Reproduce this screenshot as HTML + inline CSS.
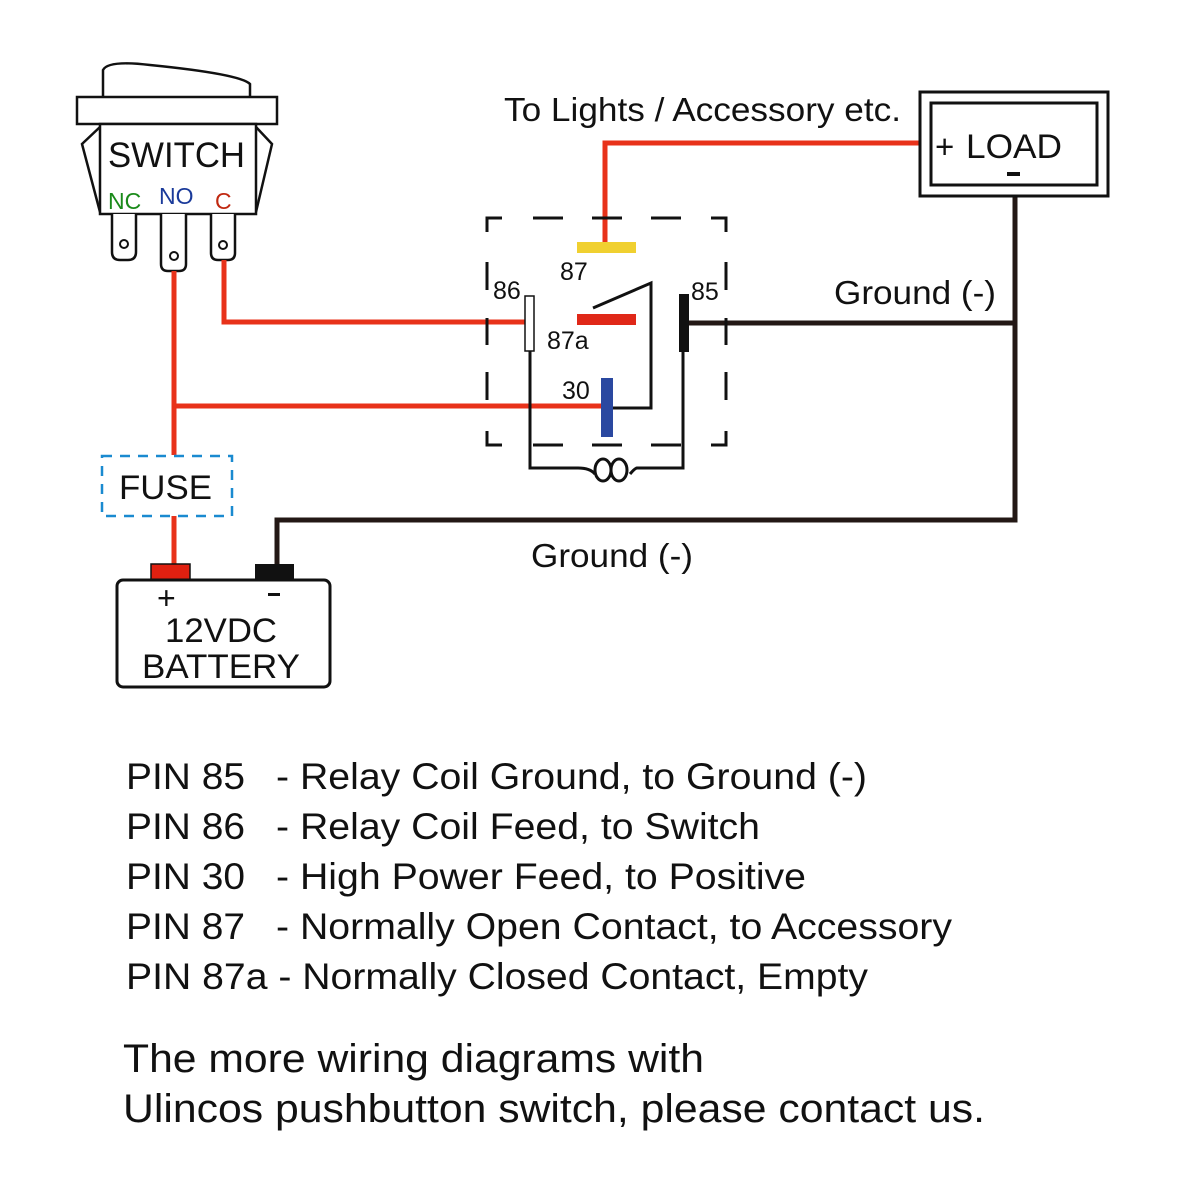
<!DOCTYPE html>
<html><head><style>html,body{margin:0;padding:0;background:#fff}svg{display:block}</style></head>
<body>
<svg width="1200" height="1200" viewBox="0 0 1200 1200" xmlns="http://www.w3.org/2000/svg" font-family="Liberation Sans, Arial, sans-serif">
<rect width="1200" height="1200" fill="#fff"/>
<!-- switch -->
<path d="M103,97 L103,70 Q108,60 150,65 Q240,74 250,84 L250,97" fill="#fff" stroke="#111" stroke-width="2.5"/>
<rect x="77" y="97" width="200" height="27" fill="#fff" stroke="#111" stroke-width="2.5"/>
<path d="M100,127 L82,144 L100,212" fill="none" stroke="#111" stroke-width="2.5"/>
<path d="M256,127 L272,144 L256,212" fill="none" stroke="#111" stroke-width="2.5"/>
<rect x="100" y="124" width="156" height="90" fill="#fff" stroke="#111" stroke-width="2.5"/>
<text x="108" y="167" font-size="35" fill="#111" textLength="137" lengthAdjust="spacingAndGlyphs">SWITCH</text>
<text x="108" y="209" font-size="23" fill="#1a8a1a">NC</text>
<text x="159" y="204" font-size="23" fill="#1a3a9a">NO</text>
<text x="215" y="209" font-size="23" fill="#c02810">C</text>
<path d="M112,214 V252 Q112,260 120,260 H128 Q136,260 136,252 V214" fill="#fff" stroke="#111" stroke-width="2.5"/>
<circle cx="124" cy="244" r="4" fill="none" stroke="#111" stroke-width="2"/>
<path d="M161,214 V264 Q161,271 168,271 H179 Q186,271 186,264 V214" fill="#fff" stroke="#111" stroke-width="2.5"/>
<circle cx="174" cy="256" r="4" fill="none" stroke="#111" stroke-width="2"/>
<path d="M211,214 V253 Q211,260 218,260 H228 Q235,260 235,253 V214" fill="#fff" stroke="#111" stroke-width="2.5"/>
<circle cx="223" cy="245" r="4" fill="none" stroke="#111" stroke-width="2"/>
<!-- red wires -->
<g stroke="#e8321a" stroke-width="5" fill="none">
<path d="M224,260 V322 H526"/>
<path d="M174,271 V455"/>
<path d="M174,406 H602"/>
<path d="M174,516 V566"/>
<path d="M605,244 V143 H919"/>
</g>
<!-- black wires -->
<g stroke="#231815" stroke-width="5" fill="none">
<path d="M277,566 V520 H1015 V197"/>
<path d="M688,323 H1015"/>
</g>
<!-- fuse -->
<rect x="102" y="456" width="130" height="60" fill="#fff" stroke="#1a8ad0" stroke-width="2.5" stroke-dasharray="10,8"/>
<text x="119" y="499" font-size="34" fill="#111" textLength="93" lengthAdjust="spacingAndGlyphs">FUSE</text>
<!-- battery -->
<rect x="151" y="564" width="39" height="17" fill="#e02010" stroke="#111" stroke-width="1.5"/>
<rect x="255" y="564" width="39" height="17" fill="#111"/>
<rect x="117" y="580" width="213" height="107" rx="6" fill="#fff" stroke="#111" stroke-width="3"/>
<text x="157" y="609" font-size="32" fill="#111">+</text>
<rect x="268" y="593" width="12" height="3" fill="#111"/>
<text x="221" y="642" font-size="34" fill="#111" text-anchor="middle" textLength="112" lengthAdjust="spacingAndGlyphs">12VDC</text>
<text x="221" y="678" font-size="34" fill="#111" text-anchor="middle" textLength="158" lengthAdjust="spacingAndGlyphs">BATTERY</text>
<!-- load -->
<rect x="920" y="92" width="188" height="104" fill="#fff" stroke="#111" stroke-width="3"/>
<rect x="931" y="103" width="166" height="82" fill="#fff" stroke="#111" stroke-width="3"/>
<text x="935" y="158" font-size="33" fill="#111">+</text>
<text x="966" y="158" font-size="34" fill="#111" textLength="96" lengthAdjust="spacingAndGlyphs">LOAD</text>
<rect x="1007" y="172" width="13" height="4" fill="#111"/>
<text x="504" y="121" font-size="33" fill="#111" textLength="397" lengthAdjust="spacingAndGlyphs">To Lights / Accessory etc.</text>
<text x="834" y="304" font-size="33" fill="#111" textLength="162" lengthAdjust="spacingAndGlyphs">Ground (-)</text>
<text x="531" y="567" font-size="33" fill="#111" textLength="162" lengthAdjust="spacingAndGlyphs">Ground (-)</text>
<!-- relay -->
<g stroke="#111" stroke-width="3" fill="none">
<path d="M487,232 V218 H502"/><path d="M711,218 H726 V232"/>
<path d="M487,431 V445 H502"/><path d="M711,445 H726 V431"/>
<path d="M533,218 H563 M592,218 H622 M651,218 H681"/>
<path d="M533,445 H563 M592,445 H622 M651,445 H681"/>
<path d="M487,262 V290 M487,318 V345 M487,372 V400"/>
<path d="M726,262 V290 M726,318 V345 M726,372 V400"/>
</g>
<path d="M530,351 V468 H578 M637,468 H683 V352" fill="none" stroke="#111" stroke-width="3"/>
<path d="M578,468 Q590,468 595,474 M630,474 Q635,468 637,468" fill="none" stroke="#111" stroke-width="3"/>
<g fill="none" stroke="#111" stroke-width="3">
<ellipse cx="603" cy="470" rx="8" ry="11"/><ellipse cx="619" cy="470" rx="8" ry="11"/>
</g>
<path d="M593,308 L651,283 V408 H613" fill="none" stroke="#111" stroke-width="3"/>
<rect x="577" y="242" width="59" height="11" fill="#f0d030"/>
<rect x="577" y="314" width="59" height="11" fill="#e02818"/>
<rect x="525" y="296" width="9" height="55" fill="#fff" stroke="#111" stroke-width="1.5"/>
<rect x="679" y="294" width="10" height="58" fill="#111"/>
<rect x="601" y="378" width="12" height="59" fill="#2a48a0"/>
<text x="560" y="280" font-size="25" fill="#111">87</text>
<text x="493" y="299" font-size="25" fill="#111">86</text>
<text x="691" y="300" font-size="25" fill="#111">85</text>
<text x="547" y="349" font-size="25" fill="#111">87a</text>
<text x="562" y="399" font-size="25" fill="#111">30</text>
<!-- pin list -->
<g font-size="37" fill="#111">
<text x="126" y="789" textLength="119" lengthAdjust="spacingAndGlyphs">PIN 85</text><text x="276" y="789" textLength="591" lengthAdjust="spacingAndGlyphs">- Relay Coil Ground, to Ground (-)</text>
<text x="126" y="839" textLength="119" lengthAdjust="spacingAndGlyphs">PIN 86</text><text x="276" y="839" textLength="484" lengthAdjust="spacingAndGlyphs">- Relay Coil Feed, to Switch</text>
<text x="126" y="889" textLength="119" lengthAdjust="spacingAndGlyphs">PIN 30</text><text x="276" y="889" textLength="530" lengthAdjust="spacingAndGlyphs">- High Power Feed, to Positive</text>
<text x="126" y="939" textLength="119" lengthAdjust="spacingAndGlyphs">PIN 87</text><text x="276" y="939" textLength="676" lengthAdjust="spacingAndGlyphs">- Normally Open Contact, to Accessory</text>
<text x="126" y="989" textLength="742" lengthAdjust="spacingAndGlyphs">PIN 87a - Normally Closed Contact, Empty</text>
</g>
<text x="123" y="1072" font-size="40" fill="#111" textLength="581" lengthAdjust="spacingAndGlyphs">The more wiring diagrams with</text>
<text x="123" y="1122" font-size="40" fill="#111" textLength="862" lengthAdjust="spacingAndGlyphs">Ulincos pushbutton switch, please contact us.</text>
</svg>
</body></html>
